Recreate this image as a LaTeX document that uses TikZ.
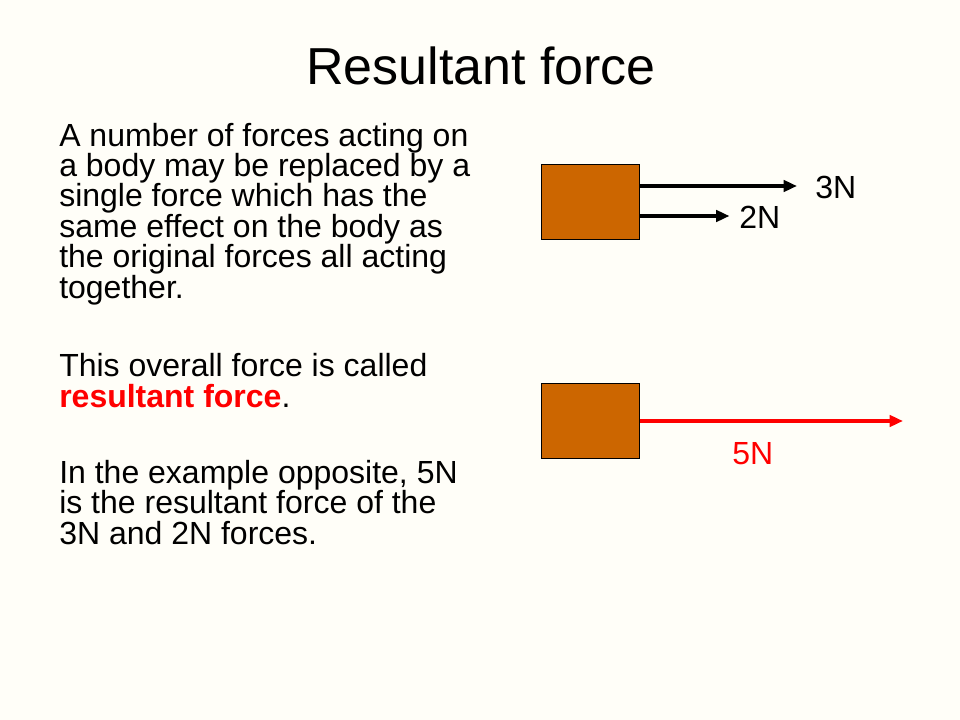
\documentclass[tikz,border=0pt]{standalone}
\usepackage{fontspec}
\setmainfont{Liberation Sans}
\usetikzlibrary{arrows.meta}
\definecolor{slidebg}{RGB}{255,254,248}
\definecolor{boxbrown}{RGB}{204,102,0}
\begin{document}
\begin{tikzpicture}[x=0.75pt,y=-0.75pt,
    txt/.style={inner sep=0pt,font=\fontsize{24}{22.8}\selectfont},
    para/.style={txt,anchor=base west,align=left},
    block/.style={draw=black,line width=0.75pt,fill=boxbrown,inner sep=0pt,
      minimum width=73.5pt,minimum height=56.25pt},
    force/.style={line width=3pt,-{Triangle[length=10pt,width=8.5pt]}}]
  \useasboundingbox[fill=slidebg] (0,0) rectangle (960,720);
  \node[inner sep=0pt,anchor=base,font=\fontsize{39}{47}\selectfont] (title)
    at (481,85) {Resultant force};
  \node[para] (p1) at (59,298) {A number of forces acting on\\
    a body may be replaced by a\\
    single force which has the\\
    same effect on the body as\\
    the original forces all acting\\
    together.};
  \node[para] (p2) at (59,407) {This overall force is called\\
    {\color{red}\bfseries resultant force}.};
  \node[para] (p3) at (59,544) {In the example opposite, 5N\\
    is the resultant force of the\\
    3N and 2N forces.};
  \node[block] (box1) at (590.5,201.75) {};
  \node[block] (box2) at (590.7,420.8) {};
  \coordinate (tip3) at (797,186);
  \coordinate (tip2) at (729.5,216);
  \coordinate (tip5) at (903,421);
  \begin{scope}[force]
    \draw (box1.east |- tip3) -- (tip3);
    \draw (box1.east |- tip2) -- (tip2);
    \draw[red] (box2.east |- tip5) -- (tip5);
  \end{scope}
  \node[txt,anchor=base west] (f3) at (815,199) {3N};
  \node[txt,anchor=base west] (f2) at (739,229) {2N};
  \node[txt,anchor=base west,text=red] (f5) at (732,464) {5N};
\end{tikzpicture}
\end{document}
